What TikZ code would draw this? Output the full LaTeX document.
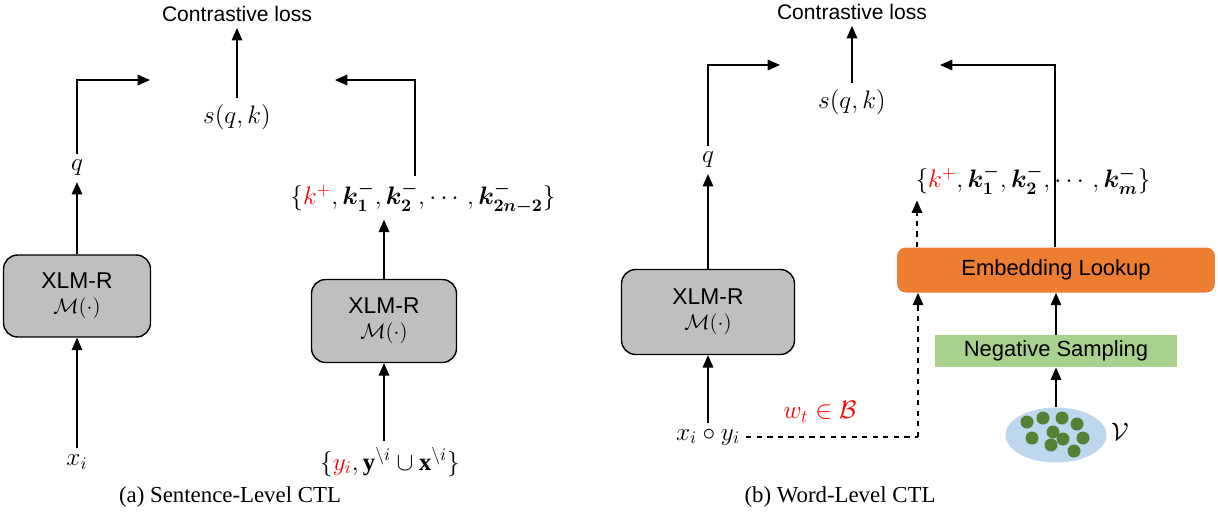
\documentclass[tikz,border=0pt]{standalone}
\usepackage{amsmath,amssymb,bm}
\usepackage{fontspec}
\setmainfont{Liberation Serif}
\newfontfamily\sff{Liberation Sans}
\usetikzlibrary{arrows.meta,shapes.geometric}
\definecolor{embc}{RGB}{237,125,49}
\definecolor{negc}{RGB}{169,209,142}
\definecolor{vocc}{RGB}{189,215,238}
\definecolor{dotc}{RGB}{84,130,53}
\begin{document}
\begin{tikzpicture}[x=0.02cm,y=-0.02cm,
  arr/.style={-{Triangle[length=7pt,width=6pt]},line width=0.7pt},
  darr/.style={arr,dashed},
  xbox/.style={draw,line width=0.8pt,rounded corners=8pt,fill=gray!50,align=center,font=\sff\fontsize{13}{16}\selectfont},
  lab/.style={font=\fontsize{14}{16}\selectfont},
  sf/.style={font=\sff\fontsize{12}{14}\selectfont},
  captxt/.style={font=\fontsize{13}{15}\selectfont}]
\useasboundingbox (0,0) rectangle (1218,515);
% left panel
\node[sf] (cl1) at (237,14) {Contrastive loss};
\node[lab] (s1) at (237,117) {$s(q,k)$};
\node[lab] (q1) at (77,168) {$q$};
\node[xbox,minimum width=2.94cm,minimum height=1.64cm] (m1) at (77,296) {XLM-R\\[-2pt]$\mathcal{M}(\cdot)$};
\node[lab] (x1) at (77,462) {$x_i$};
\node[lab] (k1) at (423,198) {$\{\textcolor{red}{k^{+}},\bm{k_1^{-}},\bm{k_2^{-}},\cdots,\bm{k_{2n-2}^{-}}\}$};
\node[xbox,minimum width=2.9cm,minimum height=1.66cm] (m2) at (384,321) {XLM-R\\[-2pt]$\mathcal{M}(\cdot)$};
\node[lab] (y1) at (390,462) {$\{\textcolor{red}{y_i},\mathbf{y}^{\setminus i}\cup\mathbf{x}^{\setminus i}\}$};
\coordinate (a1) at (150,80); \coordinate (a2) at (335,80);
\draw[arr] (s1.north) -- (cl1.south);
\draw[arr] (q1.north) |- (a1);
\draw[arr] (k1.north -| 415,0) |- (a2);
\draw[arr] (m1.north) -- (q1.south);
\draw[arr] (x1.north) -- (m1.south);
\draw[arr] (m2.north) -- (k1.south -| m2.north);
\draw[arr] (y1.north -| m2.south) -- (m2.south);
\node[captxt] (c1) at (230,497) {(a) Sentence-Level CTL};
% right panel
\node[sf] (cl2) at (852,12) {Contrastive loss};
\node[lab] (s2) at (852,102) {$s(q,k)$};
\node[lab] (q2) at (708,160) {$q$};
\node[xbox,minimum width=3.46cm,minimum height=1.7cm] (m3) at (708,312) {XLM-R\\[-2pt]$\mathcal{M}(\cdot)$};
\node[lab] (x2) at (708,437) {$x_i\circ y_i$};
\node[lab] (k2) at (1033,180) {$\{\textcolor{red}{k^{+}},\bm{k_1^{-}},\bm{k_2^{-}},\cdots,\bm{k_{m}^{-}}\}$};
\node[fill=embc,rounded corners=5pt,minimum width=6.36cm,minimum height=0.9cm,font=\sff\fontsize{12.5}{14}\selectfont] (emb) at (1056,270) {Embedding Lookup};
\node[fill=negc,minimum width=4.84cm,minimum height=0.64cm,font=\sff\fontsize{12.5}{14}\selectfont] (neg) at (1056,351) {Negative Sampling};
\node[ellipse,fill=vocc,minimum width=2.02cm,minimum height=1.1cm] (voc) at (1056,435) {};
\node[lab] (V) at (1120,432) {$\mathcal{V}$};
\foreach \px/\py in {1027/422,1043/418,1062/418,1077/424,1032/438,1053/432,1063/439,1083/438,1051/445,1074/451}
  \fill[dotc] (\px,\py) circle (0.13cm);
\coordinate (a3) at (780,65); \coordinate (a4) at (940,65);
\coordinate (d1) at (918,437);
\draw[arr] (s2.north) -- (cl2.south);
\draw[arr] (q2.north) |- (a3);
\draw[arr] (emb.north -| 1055,0) |- (a4);
\draw[arr] (m3.north) -- (q2.south);
\draw[arr] (x2.north) -- (m3.south);
\draw[darr] (emb.north -| 917,0) -- (k2.south -| 917,0);
\draw[arr] (neg.north) -- (emb.south);
\draw[arr] (voc.north) -- (neg.south);
\draw[dashed,line width=0.7pt] (x2.east) -- (d1);
\draw[darr] (d1) -- (emb.south -| d1);
\node[lab,text=red] (w) at (820,412) {$w_t\in\mathcal{B}$};
\node[captxt] (c2) at (840,497) {(b) Word-Level CTL};
\end{tikzpicture}
\end{document}
